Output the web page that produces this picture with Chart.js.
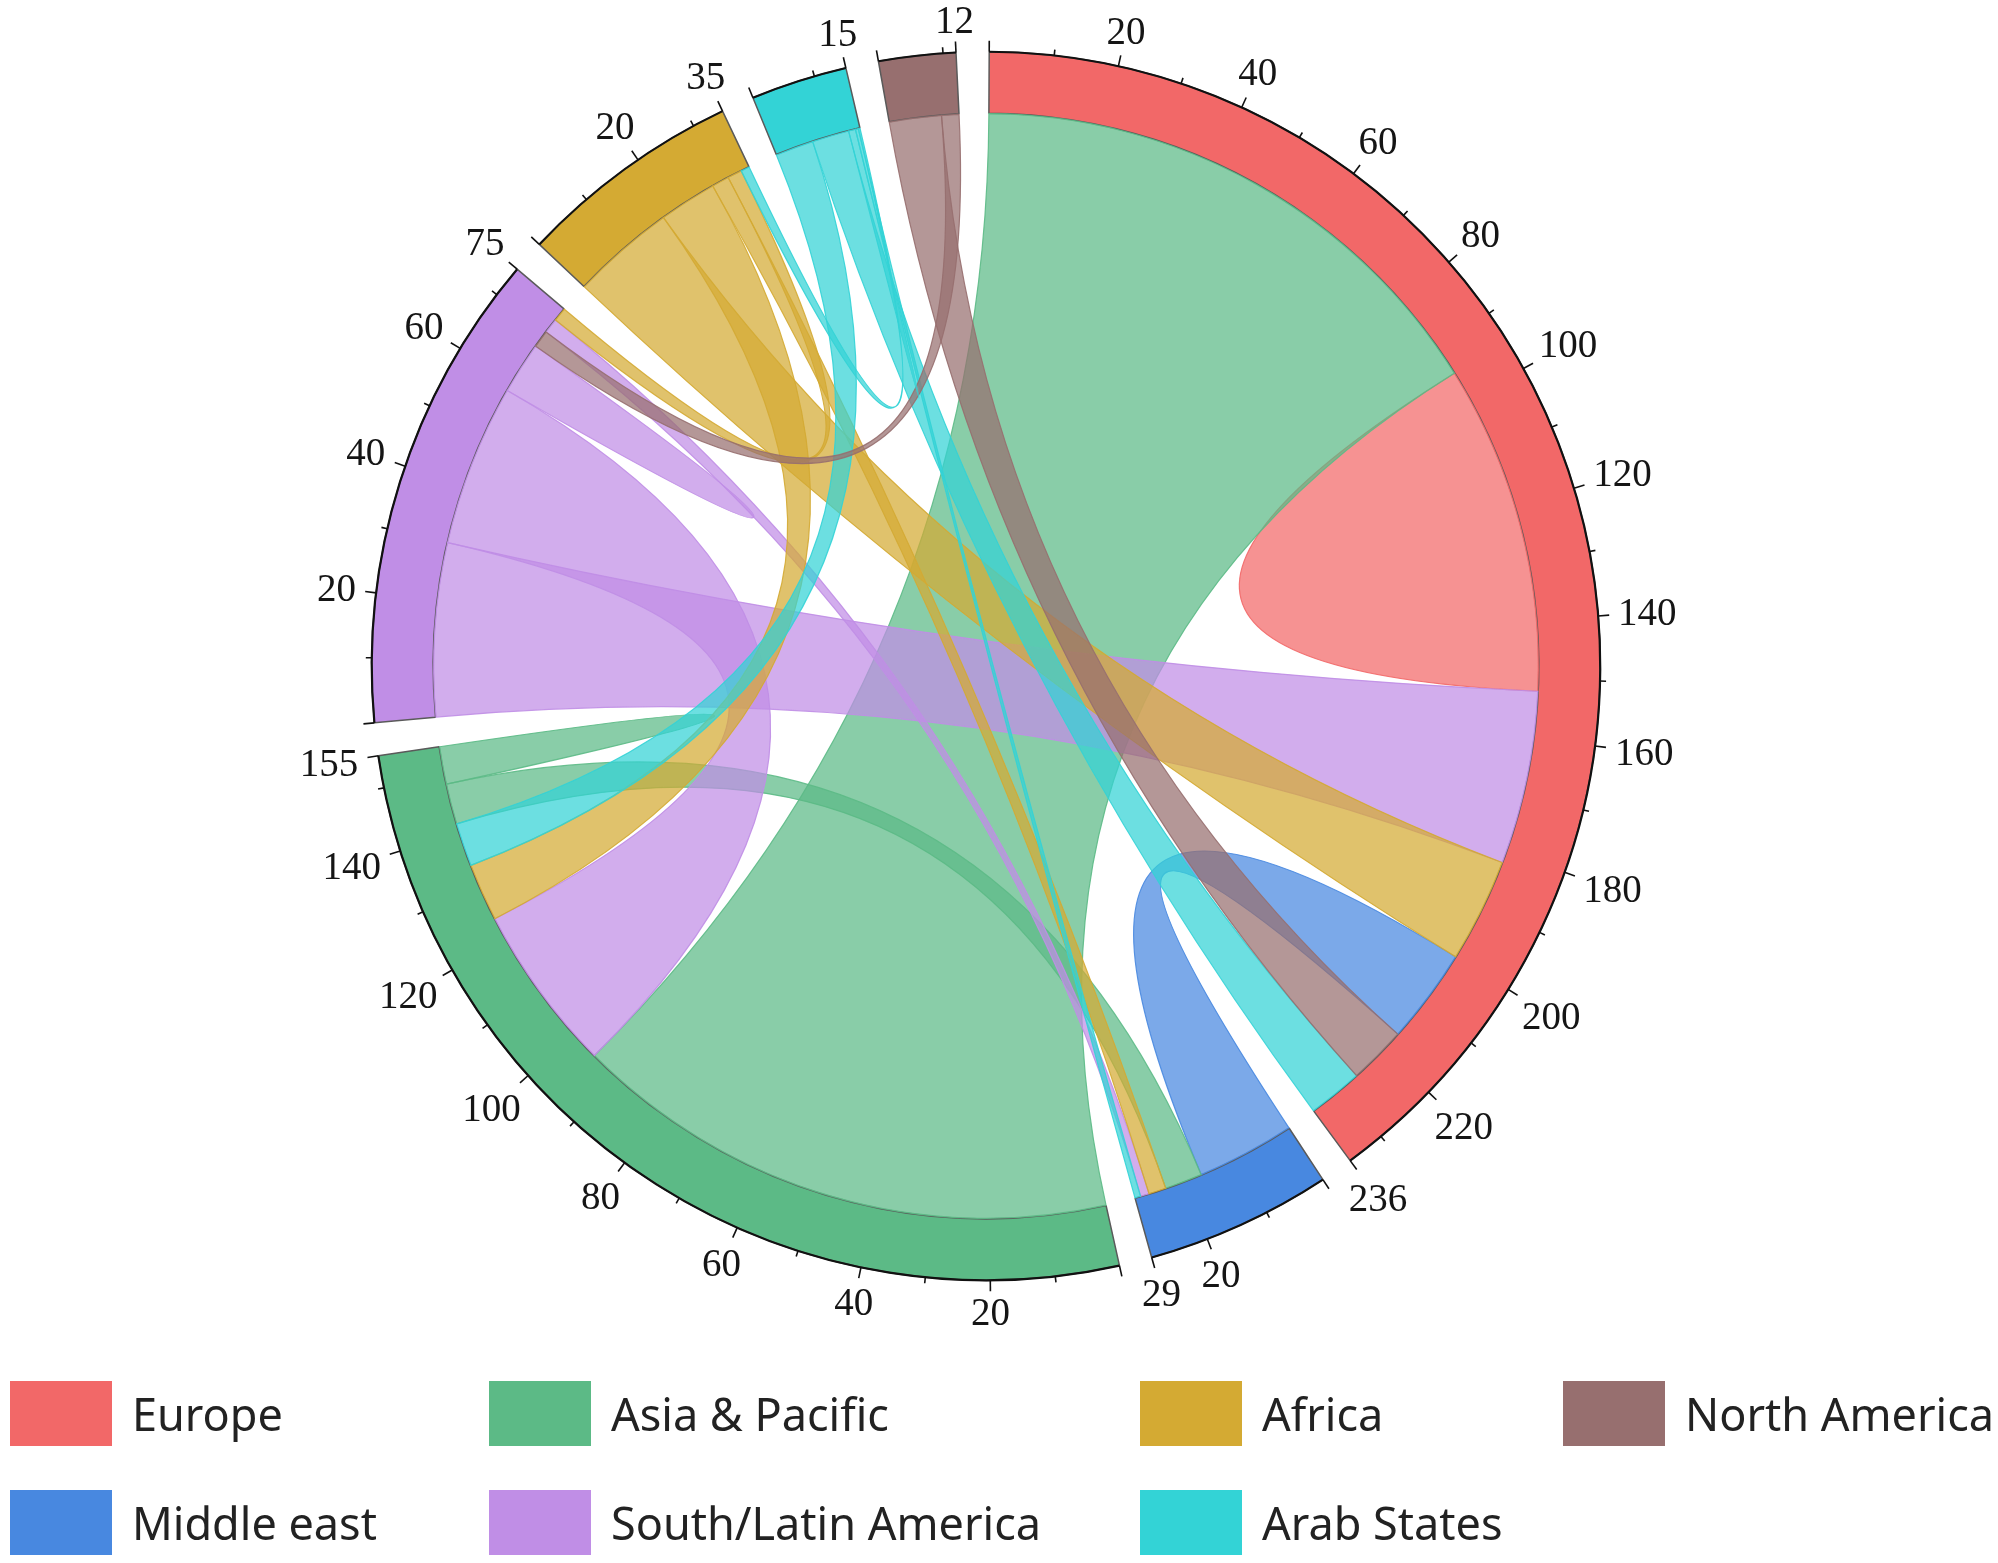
<!DOCTYPE html>
<html>
<head>
<meta charset="utf-8">
<title>Chord diagram</title>
<script src="https://cdn.jsdelivr.net/npm/chart.js@4.4.1/dist/chart.umd.min.js"></script>
<style>
  html, body { margin: 0; padding: 0; background: #fff; }
  #wrap { position: relative; width: 1998px; height: 1563px; overflow: hidden; }
  #chartBox { position: absolute; left: 0; top: 0; width: 1998px; height: 1563px; }
  #legend {
    position: absolute; left: 0; top: 0; width: 1998px; height: 1563px;
    font-family: "Noto Sans", "Open Sans", sans-serif;
    font-size: 45px;
    color: #222;
    pointer-events: none;
  }
  .item { position: absolute; display: flex; align-items: center; white-space: nowrap; height: 65px; }
  .box { width: 102px; height: 65px; margin-right: 20px; flex: none; }
</style>
</head>
<body>
<div id="wrap">
  <div id="chartBox"><canvas id="chord"></canvas></div>
  <div id="legend"></div>
</div>
<script>
/* groups, clockwise from the top */
const groups = ["Europe", "Middle east", "Asia & Pacific", "South/Latin America", "Africa", "Arab States", "North America"];
const groupTotals = [236, 29, 155, 75, 35, 15, 12];
const groupColors = ["#F26868", "#4888E0", "#5CBA86", "#C08EE6", "#D4AA33", "#33D3D6", "#976F6F"];

/* ribbon widths at each group's end, same column order as groups */
const fromEurope       = [57, 16.5, 95, 30, 18, 9.5, 10];
const fromMiddleEast   = [17, 0, 6.5, 1.5, 3, 1, 0];
const fromAsia         = [95, 7, 6.5, 29, 10, 7.5, 0];
const fromSouthAmerica = [30, 2.6, 28, 9, 2.4, 0, 3];
const fromAfrica       = [18, 3, 10, 2.5, 0, 1.5, 0];
const fromArab         = [6.4, 0.5, 6.6, 0, 0.3, 1.2, 0];
const fromNorthAmerica = [9, 0, 0, 3, 0, 0, 0];
const flows = [fromEurope, fromMiddleEast, fromAsia, fromSouthAmerica, fromAfrica, fromArab, fromNorthAmerica];

const tickStep = 10;
const labelStep = 20;

// gap between groups, in degrees
const gapDeg = 3.1;
const sumTotals = groupTotals.reduce((a, b) => a + b, 0);
const gapUnits = gapDeg / 360 * sumTotals / (1 - groups.length * gapDeg / 360);

function hexA(hex, a) {
  const n = parseInt(hex.slice(1), 16);
  return "rgba(" + (n >> 16) + "," + ((n >> 8) & 255) + "," + (n & 255) + "," + a + ")";
}

let ringData = [], ringColors = [], ringBorder = [], ringBorderW = [];
groups.forEach((g, i) => {
  ringData.push(groupTotals[i]); ringColors.push(groupColors[i]); ringBorder.push("#5a5a5a"); ringBorderW.push(1.5);
  ringData.push(gapUnits); ringColors.push("rgba(0,0,0,0)"); ringBorder.push("rgba(0,0,0,0)"); ringBorderW.push(0);
});

function ribbonPath(ctx, cx, cy, r, s, t) {
  ctx.beginPath();
  ctx.moveTo(cx + r * Math.cos(s[0]), cy + r * Math.sin(s[0]));
  ctx.arc(cx, cy, r, s[0], s[1]);
  if (t) {
    ctx.quadraticCurveTo(cx, cy, cx + r * Math.cos(t[0]), cy + r * Math.sin(t[0]));
    ctx.arc(cx, cy, r, t[0], t[1]);
  }
  ctx.quadraticCurveTo(cx, cy, cx + r * Math.cos(s[0]), cy + r * Math.sin(s[0]));
  ctx.closePath();
}

const chordPlugin = {
  id: "chord",
  afterDatasetsDraw(chart) {
    const ctx = chart.ctx;
    const arcs = chart.getDatasetMeta(0).data;
    const ring = groups.map((g, i) => arcs[i * 2]);
    const cx = ring[0].x, cy = ring[0].y;
    const rIn = ring[0].innerRadius - 0.5;
    const rOut = ring[0].outerRadius;

    // angle range of every ribbon end, biggest first inside each group
    const seg = groups.map((g, i) => {
      const row = flows[i];
      const order = row.map((v, j) => j).filter(j => row[j] > 0)
        .sort((a, b) => (row[b] - row[a]) || (a - b));
      const a0 = ring[i].startAngle, a1 = ring[i].endAngle;
      const k = (a1 - a0) / groupTotals[i];
      let acc = a0;
      const out = {};
      order.forEach(j => { out[j] = [acc, acc + row[j] * k]; acc += row[j] * k; });
      return out;
    });

    ctx.save();
    for (let i = 0; i < groups.length; i++) {
      for (let j = i; j < groups.length; j++) {
        const s = seg[i][j], t = seg[j][i];
        if (!s && !t) continue;
        const col = groupColors[j];
        ribbonPath(ctx, cx, cy, rIn, s || t, i === j ? null : (s ? t : null));
        ctx.fillStyle = hexA(col, 0.72);
        ctx.fill();
        ctx.strokeStyle = hexA(col, 0.9);
        ctx.lineWidth = 1.2;
        ctx.stroke();
      }
    }

    // outer edge, ticks and labels
    const fontPx = 39;
    ctx.strokeStyle = "#111";
    ctx.fillStyle = "#151515";
    ctx.font = fontPx + "px 'Liberation Serif', 'DejaVu Serif', serif";
    ctx.textAlign = "center";
    ctx.textBaseline = "alphabetic";
    const digitH = fontPx * 0.66;
    groups.forEach((g, i) => {
      const a0 = ring[i].startAngle, a1 = ring[i].endAngle;
      ctx.lineWidth = 2.2;
      ctx.beginPath();
      ctx.arc(cx, cy, rOut, a0, a1);
      ctx.stroke();

      const total = groupTotals[i];
      const vals = [];
      for (let v = 0; v < total; v += tickStep) vals.push(v);
      vals.push(total);
      ctx.lineWidth = 1.6;
      vals.forEach(v => {
        const a = a0 + (a1 - a0) * v / total;
        const major = v === 0 || v === total || v % labelStep === 0;
        const len = major ? 11 : 6;
        const c = Math.cos(a), sn = Math.sin(a);
        ctx.beginPath();
        ctx.moveTo(cx + rOut * c, cy + rOut * sn);
        ctx.lineTo(cx + (rOut + len) * c, cy + (rOut + len) * sn);
        ctx.stroke();
        if (v > 0 && (v % labelStep === 0 || v === total)) {
          const txt = String(v);
          const w = ctx.measureText(txt).width;
          const half = Math.abs(c) * w / 2 + Math.abs(sn) * digitH / 2;
          const rl = rOut + 11 + 8 + half;
          ctx.fillText(txt, cx + rl * c, cy + rl * sn + digitH / 2);
        }
      });
    });
    ctx.restore();
  }
};

new Chart(document.getElementById("chord"), {
  type: "doughnut",
  data: {
    labels: groups.flatMap(g => [g, ""]),
    datasets: [{
      data: ringData,
      backgroundColor: ringColors,
      borderColor: ringBorder,
      borderWidth: ringBorderW,
      cutout: "90%",
      hoverOffset: 0
    }]
  },
  options: {
    responsive: true,
    maintainAspectRatio: false,
    animation: false,
    events: [],
    rotation: 0.3,
    cutout: "90%",
    layout: { padding: { left: 371, top: 51, right: 397, bottom: 282 } },
    plugins: { legend: { display: false }, tooltip: { enabled: false } }
  },
  plugins: [chordPlugin]
});

// legend, filled column by column like the reference
const legendCols = [10, 489, 1140, 1563];
const legendRows = [1381, 1490];
const legend = document.getElementById("legend");
groups.forEach((g, i) => {
  const item = document.createElement("div");
  item.className = "item";
  item.style.left = legendCols[Math.floor(i / 2)] + "px";
  item.style.top = legendRows[i % 2] + "px";
  const box = document.createElement("span");
  box.className = "box";
  box.style.background = groupColors[i];
  const label = document.createElement("span");
  label.textContent = g;
  item.appendChild(box);
  item.appendChild(label);
  legend.appendChild(item);
});
</script>
</body>
</html>
